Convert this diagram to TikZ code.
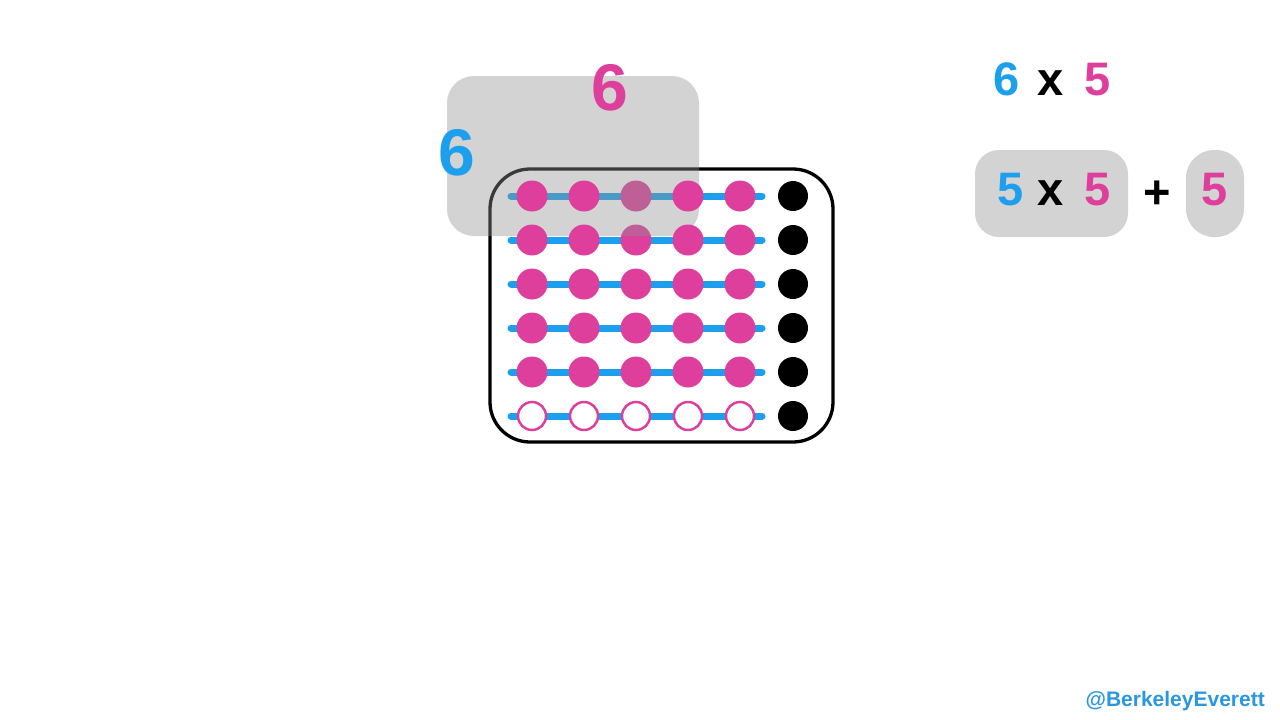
\documentclass[tikz,border=0pt]{standalone}
\usepackage{fontspec}
\setmainfont{Liberation Sans}
\definecolor{beadpink}{HTML}{DE3F9C}
\definecolor{rodblue}{HTML}{1CA0EE}
\definecolor{panelgray}{HTML}{D3D3D3}
\definecolor{handleblue}{HTML}{2B97E0}
\tikzset{
  bead/.style={circle,fill=beadpink,minimum size=31pt,inner sep=0pt},
  hollowbead/.style={circle,draw=beadpink,line width=2.5pt,fill=white,minimum size=28pt,inner sep=0pt},
  unitdot/.style={circle,fill=black,minimum size=30pt,inner sep=0pt},
  rod/.style={rodblue,line width=7pt,line cap=round},
  bignum/.style={font=\fontsize{66}{66}\selectfont\bfseries,inner sep=0pt,anchor=base},
  eqtext/.style={font=\fontsize{47}{47}\selectfont\bfseries,inner sep=0pt,anchor=base},
  eqbox/.style={fill=panelgray,rounded corners=24pt}
}
\begin{document}
\begin{tikzpicture}[x=1pt,y=-1pt]
\useasboundingbox[fill=white] (0,0) rectangle (1280,720);
% frame round the array
\draw[line width=3.3pt,rounded corners=40pt] (490,169) rectangle (833,442);
% rods and the extra column
\foreach \r [count=\i] in {196,240,284,328,372,416} {
  \coordinate (rodL\i) at (511,\r);
  \coordinate (rodR\i) at (762,\r);
  \draw[rod] (rodL\i) -- (rodR\i);
  \node[unitdot] (unit\i) at (793,\r) {};
}
% middle column lies under the panel
\foreach \r [count=\i] in {196,240,284,328,372}
  \node[bead] (bead\i-3) at (636,\r) {};
% shaded panel
\fill[black!43,fill opacity=0.4,rounded corners=27pt] (447,76) rectangle (699,236);
\foreach \r [count=\i] in {196,240,284,328,372}
  \foreach \c/\j in {532/1,584/2,688/4,740/5}
    \node[bead] (bead\i-\j) at (\c,\r) {};
\foreach \c [count=\j] in {532,584,636,688,740}
  \node[hollowbead] (hollow\j) at (\c,416) {};
% labels
\node[bignum,text=rodblue] (rowsix) at (457,175) {6};
\node[bignum,text=beadpink] (colsix) at (610,110) {6};
% equations
\node[eqtext,text=rodblue] (eqa) at (1007,95) {6};
\node[eqtext] (eqtimes) at (1051,95) {x};
\node[eqtext,text=beadpink] (eqb) at (1098,95) {5};
\fill[eqbox] (975,150) rectangle (1128,237);
\fill[eqbox,rounded corners=28pt] (1186,150) rectangle (1244,237);
\node[eqtext,text=rodblue] (sqa) at (1011,205) {5};
\node[eqtext] (sqtimes) at (1051,205) {x};
\node[eqtext,text=beadpink] (sqb) at (1098,205) {5};
\node[eqtext] (plus) at (1157,208) {+};
\node[eqtext,text=beadpink] (rest) at (1215,205) {5};
\node[font=\fontsize{21}{21}\selectfont\bfseries,text=handleblue,inner sep=0pt,anchor=base east] (handle) at (1265,706) {@BerkeleyEverett};
\end{tikzpicture}
\end{document}
